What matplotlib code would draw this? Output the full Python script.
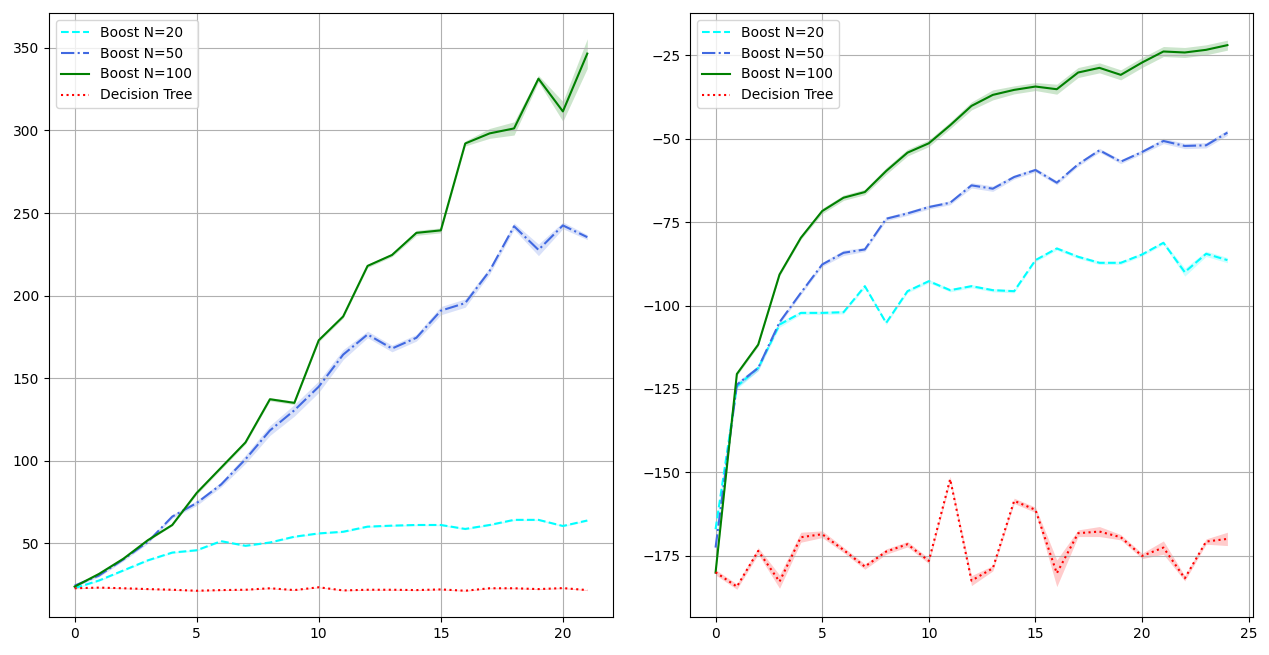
import numpy as np
import matplotlib
matplotlib.use("Agg")
import matplotlib.pyplot as plt

# left panel: 22 points
left_x = list(range(22))
left_boost20 = [23.0, 27.6, 33.7, 39.8, 44.5, 45.9, 51.4, 48.6, 50.6, 54.1, 56.1,
                57.1, 60.2, 60.8, 61.2, 61.2, 58.8, 61.2, 64.3, 64.3, 60.6, 63.9]
left_boost50 = [24.5, 30.6, 40.4, 51.0, 66.3, 74.5, 85.7, 101.0, 118.4, 130.6, 144.9,
                164.3, 176.5, 168.0, 174.5, 190.9, 195.5, 215.0, 242.0, 227.7, 242.5, 235.4]
left_boost100 = [23.9, 31.6, 40.8, 52.0, 61.2, 80.6, 95.9, 111.2, 137.3, 135.1, 173.0,
                 187.4, 218.0, 224.6, 238.0, 239.5, 292.1, 298.2, 301.2, 331.3, 311.5, 346.5]
left_tree = [22.9, 23.3, 22.9, 22.4, 22.0, 21.4, 21.8, 22.0, 22.9, 21.8, 23.5,
             21.6, 22.0, 22.0, 21.8, 22.2, 21.4, 22.9, 22.9, 22.4, 23.0, 21.8]
left_err20 = [0.5] * 22
left_err50 = [0.8, 0.8, 1, 1, 1, 1.5, 1.5, 2.5, 3, 3.5, 3.5,
              3, 2, 2, 2, 2.5, 2.5, 2, 2, 3.5, 2, 1.5]
left_err100 = [0.5, 0.5, 0.5, 0.5, 0.5, 1, 1, 1, 1, 1, 1,
               1, 1, 1, 1.5, 1.5, 1.5, 3, 4, 2, 6, 9]
left_err_tree = [0.3] * 22

# right panel: 25 points
right_x = list(range(25))
right_boost20 = [-167.0, -124.2, -118.7, -105.7, -102.2, -102.2, -102.0, -94.2, -105.2, -95.7,
                 -92.7, -95.4, -94.2, -95.4, -95.7, -86.4, -82.9, -85.4, -87.2, -87.2,
                 -84.7, -81.2, -90.0, -84.5, -86.4]
right_boost50 = [-172.5, -123.7, -118.7, -105.0, -96.2, -87.7, -84.2, -83.2, -74.0, -72.4,
                 -70.5, -69.2, -64.0, -65.0, -61.5, -59.4, -63.2, -57.7, -53.5, -56.9,
                 -54.0, -50.7, -52.2, -52.0, -48.2]
right_boost100 = [-180.0, -120.5, -111.7, -90.7, -79.7, -71.7, -67.7, -66.0, -59.7, -54.2,
                  -51.4, -46.0, -40.2, -36.9, -35.4, -34.4, -35.2, -30.2, -28.8, -30.9,
                  -27.2, -23.9, -24.2, -23.4, -22.0]
right_tree = [-179.9, -184.2, -173.5, -182.7, -169.4, -168.5, -173.2, -178.2, -173.7, -171.5,
              -176.5, -152.0, -182.4, -178.7, -158.5, -161.2, -180.2, -168.2, -167.7, -169.4,
              -175.0, -172.5, -181.7, -170.7, -169.9]
right_err20 = [1.5, 0.8, 0.8, 0.8, 0.5, 0.5, 0.5, 0.5, 0.5, 0.5,
               0.5, 0.5, 0.5, 0.5, 0.5, 0.5, 0.5, 0.5, 0.5, 0.5,
               0.5, 0.5, 1.2, 0.8, 0.8]
right_err50 = [1, 0.8, 0.8, 0.6, 0.6, 0.6, 0.8, 0.6, 0.6, 0.6,
               0.6, 0.6, 0.8, 0.8, 0.6, 0.6, 0.6, 0.6, 0.6, 0.6,
               0.6, 0.8, 0.8, 0.8, 0.8]
right_err100 = [0.5, 0.5, 0.5, 0.5, 0.5, 0.8, 0.8, 0.8, 1, 1,
                1, 1, 1.2, 1.5, 1.2, 1.2, 1.5, 1.5, 1.5, 1.5,
                1.5, 1.5, 1.5, 1.5, 1.5]
right_err_tree = [0.8, 0.8, 1, 2, 1.5, 1, 0.8, 0.8, 0.8, 0.8,
                  0.8, 0.8, 1.5, 0.8, 0.8, 0.8, 4, 1, 1.5, 0.8,
                  0.8, 2, 0.8, 0.8, 2]

labels = ["Boost N=20", "Boost N=50", "Boost N=100", "Decision Tree"]
colors = ["cyan", "royalblue", "green", "red"]
styles = ["--", "-.", "-", ":"]


def draw_panel(ax, x, series, errs):
    for y, e, lab, c, ls in zip(series, errs, labels, colors, styles):
        y = np.asarray(y)
        e = np.asarray(e)
        ax.fill_between(x, y - e, y + e, color=c, alpha=0.2, linewidth=0)
        ax.plot(x, y, linestyle=ls, color=c, label=lab, linewidth=1.5)
    ax.grid(True)
    ax.legend(loc="upper left")


fig = plt.figure(figsize=(12.69, 6.55), dpi=100)
ax1 = fig.add_axes([0.0386, 0.058, 0.4444, 0.922])
ax2 = fig.add_axes([0.5437, 0.058, 0.4437, 0.922])

draw_panel(ax1, left_x,
           [left_boost20, left_boost50, left_boost100, left_tree],
           [left_err20, left_err50, left_err100, left_err_tree])
ax1.set_ylim(5.5, 371)

draw_panel(ax2, right_x,
           [right_boost20, right_boost50, right_boost100, right_tree],
           [right_err20, right_err50, right_err100, right_err_tree])
ax2.set_ylim(-193.3, -12.4)

fig.savefig("out.png", dpi=100)
